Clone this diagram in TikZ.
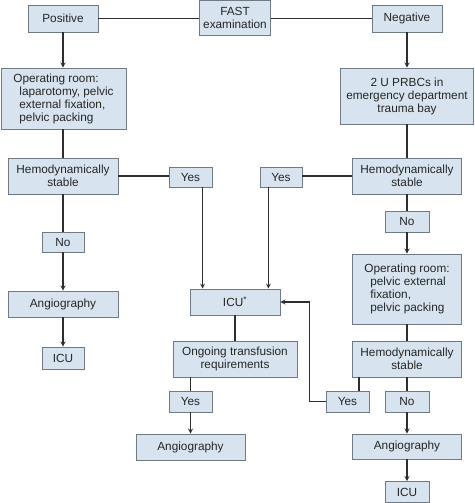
\documentclass[tikz,border=0pt]{standalone}
\usepackage{fontspec}
\setmainfont{Liberation Sans}
\usepackage{tikz}

\definecolor{boxblue}{HTML}{D7E4EF}
\definecolor{boxline}{HTML}{6F7A85}
\definecolor{linkline}{HTML}{2E2E2E}

\tikzset{
  box/.style={draw=boxline, line width=0.9pt, fill=boxblue, text=black!85,
    inner sep=1pt, align=center, font=\fontsize{11.8}{13}\selectfont},
  link/.style={draw=linkline, line width=1.2pt},
  >=stealth
}

\begin{document}
\begin{tikzpicture}[x=1pt, y=-1pt]
  \useasboundingbox (0,0) rectangle (474,503);

  % top row
  \node[box, minimum width=71pt, minimum height=35pt] (fast) at (235,17.5) {FAST\\examination};
  \node[box, minimum width=70pt, minimum height=27pt] (pos) at (63,18.5) {Positive};
  \node[box, minimum width=70pt, minimum height=27pt] (neg) at (407,18.5) {Negative};

  % left column
  \node[box, minimum width=125pt, minimum height=61pt, align=left] (or1) at (63.5,98.5)
    {Operating room:\\\hspace*{6pt}laparotomy, pelvic\\\hspace*{6pt}external fixation,\\\hspace*{6pt}pelvic packing};
  \node[box, minimum width=110pt, minimum height=36pt] (hemo1) at (63,176) {Hemodynamically\\stable};
  \node[box, minimum width=43pt, minimum height=20pt] (yes1) at (190.5,177) {Yes};
  \node[box, minimum width=42pt, minimum height=20pt] (no1) at (63,242) {No};
  \node[box, minimum width=110pt, minimum height=26pt] (angio1) at (63,304) {Angiography};
  \node[box, minimum width=42pt, minimum height=22pt] (icu1) at (63,358) {ICU};

  % right column
  \node[box, minimum width=133pt, minimum height=56pt] (prbc) at (407,96)
    {2 U PRBCs in\\emergency department\\trauma bay};
  \node[box, minimum width=109pt, minimum height=36pt] (hemo2) at (407,176) {Hemodynamically\\stable};
  \node[box, minimum width=42pt, minimum height=20pt] (yes2) at (281,177) {Yes};
  \node[box, minimum width=44pt, minimum height=21pt] (no2) at (407,221.5) {No};
  \node[box, minimum width=109pt, minimum height=70pt, align=left] (or2) at (407,289)
    {Operating room:\\\hspace*{6pt}pelvic external\\\hspace*{6pt}fixation,\\\hspace*{6pt}pelvic packing};
  \node[box, minimum width=109pt, minimum height=36pt] (hemo3) at (407,359) {Hemodynamically\\stable};
  \node[box, minimum width=43pt, minimum height=21pt] (yes3) at (347.5,401.5) {Yes};
  \node[box, minimum width=44pt, minimum height=21pt] (no3) at (407,401.5) {No};
  \node[box, minimum width=109pt, minimum height=25pt] (angio3) at (407,446.5) {Angiography};
  \node[box, minimum width=44pt, minimum height=21pt] (icu3) at (407,492) {ICU};

  % middle column
  \node[box, minimum width=90pt, minimum height=26pt] (icus) at (235,302) {ICU\textsuperscript{*}};
  \node[box, minimum width=124pt, minimum height=36pt] (ongo) at (235,359)
    {Ongoing transfusion\\requirements};
  \node[box, minimum width=43pt, minimum height=21pt] (yes4) at (190.5,401.5) {Yes};
  \node[box, minimum width=109pt, minimum height=26pt] (angio4) at (190.5,447) {Angiography};

  % connectors
  \draw[link] (pos.east) -- (pos.east -| fast.west);
  \draw[link] (fast.east |- neg.west) -- (neg.west);
  \draw[link,->] (pos.south) -- (pos.south |- or1.north);
  \draw[link,->] (neg.south) -- (prbc.north);

  \draw[link] (or1.south -| hemo1.north) -- (hemo1.north);
  \draw[link] (hemo1.east) -- (hemo1.east -| yes1.west);
  \draw[link] (hemo1.south) -- (no1.north);
  \draw[link,->] (no1.south) -- (angio1.north);
  \draw[link,->] (angio1.south) -- (icu1.north);

  \draw[link] (prbc.south) -- (hemo2.north);
  \draw[link] (hemo2.west) -- (hemo2.west -| yes2.east);
  \draw[link] (hemo2.south) -- (no2.north);
  \draw[link,->] (no2.south) -- (or2.north);
  \draw[link] (or2.south) -- (hemo3.north);
  \draw[link] (hemo3.south) -- (no3.north);
  \draw[link,->] (no3.south) -- (angio3.north);
  \draw[link,->] (angio3.south) -- (icu3.north);
  \draw[link] ([xshift=7pt]hemo3.south west) -- ([xshift=7pt]hemo3.south west |- yes3.north);
  \draw[link,->] (yes3.west) -- ++(-16pt,0) |- (icus.east);

  \draw[link,->] ([xshift=13pt]icus.north west |- yes1.south) -- ([xshift=13pt]icus.north west);
  \draw[link,->] ([xshift=-12pt]icus.north east |- yes2.south) -- ([xshift=-12pt]icus.north east);
  \draw[link] (icus.south) -- (ongo.north);
  \draw[link] (ongo.south -| yes4.north) -- (yes4.north);
  \draw[link,->] (yes4.south) -- (angio4.north);

\end{tikzpicture}
\end{document}
